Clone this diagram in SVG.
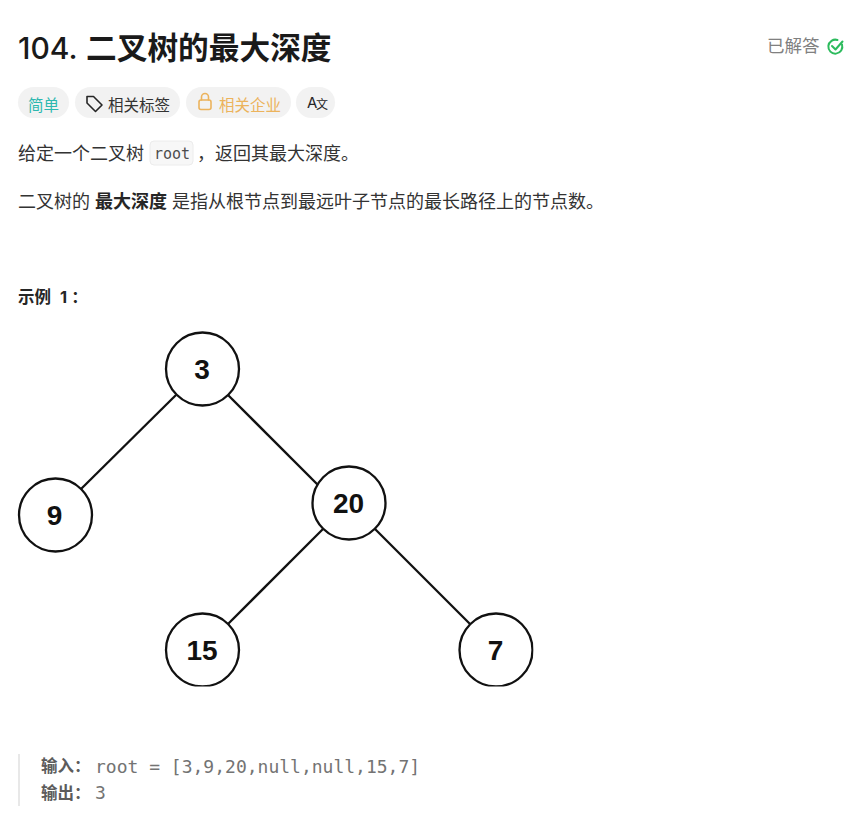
<svg xmlns="http://www.w3.org/2000/svg" width="865" height="819" viewBox="0 0 865 819">
<style>
text{font-family:"Inter","Noto Sans CJK SC","Noto Sans",sans-serif}
.b{font-size:18px;fill:#333}
.s{font-weight:700;fill:#262626}
.chip{fill:#f2f2f2}
.c{font-size:15.500px}
.mono{font-family:"DejaVu Sans Mono","Noto Sans CJK SC",monospace}
.n{fill:#fff;stroke:#111;stroke-width:2.300}
.nt{font-family:"Liberation Sans",Arial,sans-serif;font-weight:700;font-size:28px;fill:#111;text-anchor:middle}
.e{stroke:#111;stroke-width:2.300;fill:none}
.ic{fill:none;stroke-width:1.600;stroke-linecap:round;stroke-linejoin:round}
.o{font-size:18px;fill:#737373}
</style>
<defs><clipPath id="crop"><rect x="0" y="320" width="533.500" height="366.500"/></clipPath></defs>
<rect width="865" height="819" fill="#fff"/>
<text x="18" y="59" font-size="30" font-weight="500" fill="#1a1a1a">104.</text>
<text x="86" y="59" font-size="30.700" font-weight="600" fill="#1a1a1a">二叉树的最大深度</text>
<text x="767" y="52" font-size="17.500" fill="#808080">已解答</text>
<g class="ic" stroke="#2cbb5d"><path d="M842 44.500A7 7 0 1 1 837.500 40" stroke-width="2"/><path d="M832 46l3.500 3.500 7-8" stroke-width="2"/></g>
<rect class="chip" x="18" y="87" width="51" height="31" rx="15.500"/>
<text x="28" y="111" class="c" fill="#2db8b0">简单</text>
<rect class="chip" x="75" y="87" width="105" height="31" rx="15.500"/>
<path class="ic" stroke="#262626" d="M87 96.500v6.500l8.500 8.500 6.500-6.500-8.500-8.500z"/>
<text x="108" y="111" class="c" fill="#333">相关标签</text>
<rect class="chip" x="186" y="87" width="105" height="31" rx="15.500"/>
<g class="ic" stroke="#ecb35c"><rect x="199" y="100" width="12" height="9.500" rx="2"/><path d="M201.500 100v-3a3.500 3.500 0 0 1 7 0v3"/></g>
<text x="219" y="111" class="c" fill="#ecb35c">相关企业</text>
<rect class="chip" x="296" y="87" width="39" height="31" rx="15.500"/>
<text x="307" y="108" font-size="15" fill="#262626">A</text><text x="316" y="109" font-size="12" fill="#262626">文</text>
<text x="18" y="160" class="b">给定一个二叉树</text>
<rect x="150" y="141" width="43" height="24" rx="4" fill="#f7f7f7" stroke="#ececec"/>
<text x="154" y="159" font-size="15" class="mono" fill="#4d4d4d">root</text>
<text x="197" y="160" class="b">，返回其最大深度。</text>
<text x="18" y="208" class="b">二叉树的</text>
<text x="95" y="208" class="b s">最大深度</text>
<text x="172" y="208" class="b">是指从根节点到最远叶子节点的最长路径上的节点数。</text>
<text x="18" y="303" font-size="16.500" font-weight="700" fill="#262626">示例</text>
<text x="60" y="303" font-size="16.500" font-weight="700" fill="#262626">1<tspan dx="4">：</tspan></text>
<g id="connectors">
<line class="e" x1="176" y1="395" x2="81" y2="489"/>
<line class="e" x1="228" y1="395" x2="323" y2="490"/>
<line class="e" x1="323" y1="529" x2="228" y2="624"/>
<line class="e" x1="375" y1="529" x2="470" y2="624"/>
</g>
<g id="node-3"><circle class="n" cx="202.500" cy="369" r="36.500"/><text class="nt" x="202" y="378.500">3</text></g>
<g id="node-9"><circle class="n" cx="55.500" cy="515" r="36.500"/><text class="nt" x="54.500" y="524.500">9</text></g>
<g id="node-20"><circle class="n" cx="349" cy="503" r="36.500"/><text class="nt" x="348.500" y="512.500">20</text></g>
<g id="node-15" clip-path="url(#crop)"><circle class="n" cx="202.500" cy="650" r="36.500"/><text class="nt" x="202" y="659.500">15</text></g>
<g id="node-7" clip-path="url(#crop)"><circle class="n" cx="496" cy="650" r="36.500"/><text class="nt" x="495.500" y="659.500">7</text></g>
<rect x="18" y="754" width="2" height="52" fill="#e8e8e8"/>
<text x="41" y="772" font-size="16.500" font-weight="700" fill="#5c5c5c">输入：</text>
<text x="95" y="773" class="o mono">root = [3,9,20,null,null,15,7]</text>
<text x="41" y="799" font-size="16.500" font-weight="700" fill="#5c5c5c">输出：</text>
<text x="95" y="799" class="o mono">3</text>
</svg>
